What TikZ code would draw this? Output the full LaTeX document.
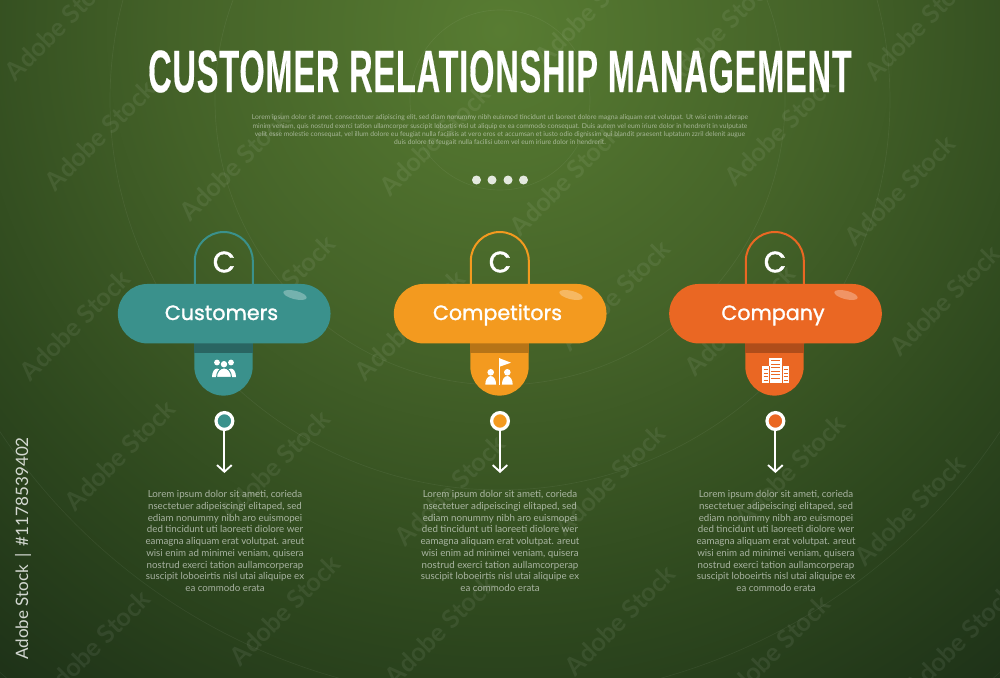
\documentclass[tikz,border=0pt]{standalone}
\usepackage{fontspec}
\usetikzlibrary{arrows.meta,shapes.misc}
\setmainfont{Lato}
\newfontfamily\labelfont[FakeBold=1.3]{Poppins}
\newfontfamily\titlefont[FakeStretch=0.54,FakeBold=0.3,LetterSpace=1.5]{Liberation Sans}
\definecolor{tealcol}{RGB}{58,145,140}
\definecolor{ambercol}{RGB}{243,154,31}
\definecolor{rustcol}{RGB}{234,103,35}
\definecolor{glowa}{RGB}{88,124,50}
\definecolor{glowb}{RGB}{68,98,40}
\definecolor{glowc}{RGB}{46,72,30}
\definecolor{glowd}{RGB}{30,50,24}
\pgfdeclareradialshading{bgglow}{\pgfpoint{0bp}{0bp}}{color(0bp)=(glowa);color(10bp)=(glowb);color(18bp)=(glowc);color(25bp)=(glowd);color(50bp)=(glowd)}
\newcommand{\bodytext}{Lorem ipsum dolor sit ameti, corieda\\nsectetuer adipeiscingi elitaped, sed\\ediam nonummy nibh aro euismopei\\ded tincidunt uti laoreeti diolore wer\\eamagna aliquam erat volutpat. areut\\wisi enim ad minimei veniam, quisera\\nostrud exerci tation aullamcorperap\\suscipit loboeirtis nisl utai aliquipe ex\\ea commodo erata}
\begin{document}
\begin{tikzpicture}[x=0.75pt,y=0.75pt]
		\tikzstyle{every node}+=[inner sep=0pt]
		\tikzstyle{pill}=[rounded rectangle, minimum width=159.5pt, minimum height=44.6pt]
		\tikzstyle{pilllabel}=[anchor=base, text=white, font=\labelfont\fontsize{15.5}{17}\selectfont]
		\tikzstyle{capletter}=[text=white, font=\labelfont\fontsize{22}{24}\selectfont]
		\tikzstyle{dotring}=[circle, draw=white, line width=2.4pt, minimum size=12.6pt]
		\tikzstyle{pointer}=[white, line width=1.5pt, -{Straight Barb[length=5pt,width=11pt,line width=1.4pt]}]
		\tikzstyle{bodycopy}=[text=white, text opacity=0.58, align=center, font=\fontsize{7.3}{8.8}\selectfont]
		\tikzstyle{stockmark}=[text=white, text opacity=0.07, rotate=45, font=\bfseries\fontsize{19}{22}\selectfont]
		\tikzstyle{ringline}=[white, opacity=0.06, line width=0.5pt]
		\tikzstyle{gloss}=[white, opacity=0.3]
		\useasboundingbox (0,0) rectangle (1000,-678);
		\begin{scope}
		\clip (0,0) rectangle (1000,-678);
		\shade [shading=bgglow] (500,-30) circle (820);
		\draw [ringline] (500,-100) circle (90);
		\draw [ringline] (500,-100) circle (285);
		\draw [ringline] (500,-100) circle (390);
		\draw [ringline] (500,-100) circle (600);
		\draw [ringline] (500,-100) circle (760);
		\end{scope}
		\node [stockmark] (wm1) at (60,-25) {Adobe Stock};
		\node [stockmark] (wm2) at (100,-135) {Adobe Stock};
		\node [stockmark] (wm3) at (235,-165) {Adobe Stock};
		\node [stockmark] (wm4) at (435,-140) {Adobe Stock};
		\node [stockmark] (wm5) at (565,-180) {Adobe Stock};
		\node [stockmark] (wm6) at (590,-10) {Adobe Stock};
		\node [stockmark] (wm7) at (720,-30) {Adobe Stock};
		\node [stockmark] (wm8) at (920,-25) {Adobe Stock};
		\node [stockmark] (wm9) at (780,-130) {Adobe Stock};
		\node [stockmark] (wm10) at (900,-190) {Adobe Stock};
		\node [stockmark] (wm11) at (75,-325) {Adobe Stock};
		\node [stockmark] (wm12) at (280,-290) {Adobe Stock};
		\node [stockmark] (wm13) at (410,-325) {Adobe Stock};
		\node [stockmark] (wm14) at (615,-295) {Adobe Stock};
		\node [stockmark] (wm15) at (740,-320) {Adobe Stock};
		\node [stockmark] (wm16) at (945,-300) {Adobe Stock};
		\node [stockmark] (wm17) at (120,-455) {Adobe Stock};
		\node [stockmark] (wm18) at (275,-465) {Adobe Stock};
		\node [stockmark] (wm19) at (450,-490) {Adobe Stock};
		\node [stockmark] (wm20) at (610,-480) {Adobe Stock};
		\node [stockmark] (wm21) at (790,-470) {Adobe Stock};
		\node [stockmark] (wm22) at (910,-510) {Adobe Stock};
		\node [stockmark] (wm23) at (95,-645) {Adobe Stock};
		\node [stockmark] (wm24) at (285,-610) {Adobe Stock};
		\node [stockmark] (wm25) at (440,-630) {Adobe Stock};
		\node [stockmark] (wm26) at (620,-620) {Adobe Stock};
		\node [stockmark] (wm27) at (775,-650) {Adobe Stock};
		\node [stockmark] (wm28) at (960,-640) {Adobe Stock};
		\node [text=white, font=\titlefont\bfseries\fontsize{45}{50}\selectfont] (title) at (500,-71.5) {CUSTOMER RELATIONSHIP MANAGEMENT};
		\node [text=white, text opacity=0.5, align=center, font=\fontsize{5.05}{6.3}\selectfont] (intro) at (500,-130.5) {Lorem ipsum dolor sit amet, consectetuer adipiscing elit, sed diam nonummy nibh euismod tincidunt ut laoreet dolore magna aliquam erat volutpat. Ut wisi enim aderape\\minim veniam, quis nostrud exerci tation ullamcorper suscipit lobortis nisl ut aliquip ex ea commodo consequat. Duis autem vel eum iriure dolor in hendrerit in vulputate\\velit esse molestie consequat, vel illum dolore eu feugiat nulla facilisis at vero eros et accumsan et iusto odio dignissim qui blandit praesent luptatum zzril delenit augue\\duis dolore te feugait nulla facilisi utem vel eum iriure dolor in hendrerit.};
		\fill [white, opacity=0.85] (476.5,-180) circle (4.5);
		\fill [white, opacity=0.85] (492,-180) circle (4.5);
		\fill [white, opacity=0.85] (508,-180) circle (4.5);
		\fill [white, opacity=0.85] (523.5,-180) circle (4.5);
		\draw [tealcol, line width=1.5pt] (194.8,-284) -- (194.8,-261) arc (180:0:29) -- (252.8,-284);
		\node [capletter] (cap1) at (224,-262) {C};
		\fill [tealcol] (194.3,-340) -- (194.3,-366.4) arc (180:360:29.2) -- (252.7,-340) -- cycle;
		\fill [tealcol!70!black] (194.3,-340) rectangle (252.7,-353);
		\node [pill, fill=tealcol] (customers) at (224.2,-313.7) {};
		\fill [gloss] (295,-295) ellipse [x radius=12, y radius=4.2, rotate=-14];
		\node [pilllabel] (customerslabel) at (221.5,-320) {Customers};
		\fill [white] (212,-377) arc (180:0:5 and 8.5) -- cycle;
		\fill [white] (226,-377) arc (180:0:5 and 8.5) -- cycle;
		\fill [white] (217,-362.5) circle (2.9);
		\fill [white] (231,-362.5) circle (2.9);
		\draw [tealcol, fill=white, line width=0.7pt] (216.5,-377.4) arc (180:0:7.5 and 9.5) -- cycle;
		\fill [white] (224,-364.2) circle (3.2);
		\node [dotring, fill=tealcol] (dot1) at (224.4,-421) {};
		\coordinate (tip1) at (224.4,-473);
		\draw [pointer] (dot1) -- (tip1);
		\node [bodycopy] (copy1) at (225,-541) {\bodytext};
		\draw [ambercol, line width=1.5pt] (470.8,-284) -- (470.8,-261) arc (180:0:29) -- (528.8,-284);
		\node [capletter] (cap2) at (500,-262) {C};
		\fill [ambercol] (470.3,-340) -- (470.3,-366.4) arc (180:360:29.2) -- (528.7,-340) -- cycle;
		\fill [ambercol!75!black] (470.3,-340) rectangle (528.7,-353);
		\node [pill, fill=ambercol] (competitors) at (500.2,-313.7) {};
		\fill [gloss] (571,-295) ellipse [x radius=12, y radius=4.2, rotate=-14];
		\node [pilllabel] (competitorslabel) at (497.5,-320) {Competitors};
		\fill [white] (490.7,-372.3) circle (3.3);
		\fill [white] (507.3,-372.3) circle (3.3);
		\fill [white] (485.3,-384.5) arc (180:0:5.4 and 8.5) -- cycle;
		\fill [white] (501.9,-384.5) arc (180:0:5.4 and 8.5) -- cycle;
		\fill [white] (498.5,-358.3) rectangle (499.6,-384.5);
		\fill [white] (499.6,-358.3) -- (511,-362.7) -- (499.6,-366.7) -- cycle;
		\node [dotring, fill=ambercol] (dot2) at (500,-421) {};
		\coordinate (tip2) at (500,-473);
		\draw [pointer] (dot2) -- (tip2);
		\node [bodycopy] (copy2) at (500,-541) {\bodytext};
		\draw [rustcol, line width=1.5pt] (745.8,-284) -- (745.8,-261) arc (180:0:29) -- (803.8,-284);
		\node [capletter] (cap3) at (775,-262) {C};
		\fill [rustcol] (745.3,-340) -- (745.3,-366.4) arc (180:360:29.2) -- (803.7,-340) -- cycle;
		\fill [rustcol!75!black] (745.3,-340) rectangle (803.7,-353);
		\node [pill, fill=rustcol] (company) at (775.5,-313.7) {};
		\fill [gloss] (846,-295) ellipse [x radius=12, y radius=4.2, rotate=-14];
		\node [pilllabel] (companylabel) at (773,-320) {Company};
		\fill [white] (762,-366) rectangle (789,-383.4);
		\fill [white] (769,-357.5) rectangle (782,-383.4);
		\draw [rustcol, line width=0.5pt] (768.9,-383.4) -- (768.9,-366);
		\draw [rustcol, line width=0.5pt] (782.1,-383.4) -- (782.1,-366);
		\draw [rustcol, line width=0.6pt] (771,-360.5) -- (780,-360.5);
		\draw [rustcol, line width=0.6pt] (771,-364) -- (780,-364);
		\draw [rustcol, line width=0.6pt] (771,-367.5) -- (780,-367.5);
		\draw [rustcol, line width=0.6pt] (771,-371) -- (780,-371);
		\draw [rustcol, line width=0.6pt] (771,-374.5) -- (780,-374.5);
		\draw [rustcol, line width=0.6pt] (771,-378) -- (780,-378);
		\draw [rustcol, line width=0.6pt] (763.5,-369.5) -- (767.5,-369.5);
		\draw [rustcol, line width=0.6pt] (763.5,-373) -- (767.5,-373);
		\draw [rustcol, line width=0.6pt] (763.5,-376.5) -- (767.5,-376.5);
		\draw [rustcol, line width=0.6pt] (763.5,-380) -- (767.5,-380);
		\draw [rustcol, line width=0.6pt] (783.5,-369.5) -- (787.5,-369.5);
		\draw [rustcol, line width=0.6pt] (783.5,-373) -- (787.5,-373);
		\draw [rustcol, line width=0.6pt] (783.5,-376.5) -- (787.5,-376.5);
		\draw [rustcol, line width=0.6pt] (783.5,-380) -- (787.5,-380);
		\node [dotring, fill=rustcol] (dot3) at (775.4,-421) {};
		\coordinate (tip3) at (775.4,-473);
		\draw [pointer] (dot3) -- (tip3);
		\node [bodycopy] (copy3) at (776,-541) {\bodytext};
		\node [text=white, text opacity=0.8, rotate=90, font=\fontsize{12.8}{15}\selectfont] (stockid) at (23,-548.5) {Adobe Stock\, |\, \#1178539402};
	\end{tikzpicture}
\end{document}
